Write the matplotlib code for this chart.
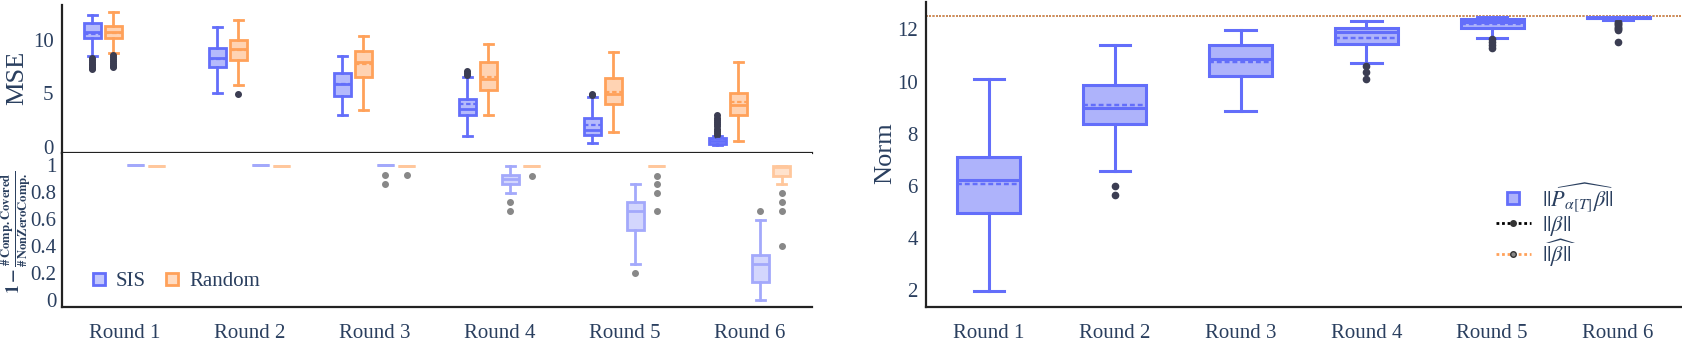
import matplotlib
matplotlib.use('Agg')
import matplotlib.pyplot as plt
from matplotlib.lines import Line2D

plt.rcParams['font.family'] = ['Liberation Serif', 'DejaVu Serif']
plt.rcParams['mathtext.fontset'] = 'stix'

TXT = '#2a3f5f'
BLUE = '#636EFA'
ORANGE = '#FFA15A'

rounds = ['Round 1', 'Round 2', 'Round 3', 'Round 4', 'Round 5', 'Round 6']

# ---- MSE (top-left) : lo, q1, med, mean, q3, hi
mse_sis_lo = [8.5, 5.06, 2.93, 1.02, 0.34, 0.15]
mse_sis_q1 = [10.2, 7.44, 4.72, 2.93, 1.11, 0.28]
mse_sis_med = [10.75, 8.36, 5.9, 3.49, 1.57, 0.55]
mse_sis_mean = [10.6, 8.2, 5.85, 4.04, 2.04, 0.7]
mse_sis_q3 = [11.6, 9.29, 6.88, 4.44, 2.71, 0.83]
mse_sis_hi = [12.38, 11.2, 8.52, 6.5, 4.66, 0.95]
mse_sis_out = [[8.3, 8.1, 7.95, 7.8, 7.65, 7.5, 7.4, 7.3], [], [],
               [7.1, 6.9, 6.75], [4.97, 4.85],
               [1.1, 1.3, 1.5, 1.7, 1.9, 2.1, 2.3, 2.5, 2.7, 2.96]]

mse_rnd_lo = [8.77, 5.83, 3.43, 2.93, 1.36, 0.49]
mse_rnd_q1 = [10.2, 8.12, 6.57, 5.28, 3.98, 2.96]
mse_rnd_med = [10.8, 9.2, 7.9, 6.36, 4.9, 3.95]
mse_rnd_mean = [10.65, 9.07, 7.75, 6.5, 5.1, 4.2]
mse_rnd_q3 = [11.36, 10.0, 8.98, 7.9, 6.42, 5.03]
mse_rnd_hi = [12.6, 11.85, 10.37, 9.66, 8.89, 7.96]
mse_rnd_out = [[8.6, 8.4, 8.2, 8.0, 7.85, 7.7, 7.55, 7.44], [4.94], [], [], [], []]

# ---- Coverage (bottom-left)
cov_sis_lo = [1.0, 1.0, 1.0, 0.795, 0.267, 0.0]
cov_sis_q1 = [1.0, 1.0, 1.0, 0.857, 0.52, 0.128]
cov_sis_med = [1.0, 1.0, 1.0, 0.894, 0.661, 0.267]
cov_sis_q3 = [1.0, 1.0, 1.0, 0.93, 0.728, 0.333]
cov_sis_hi = [1.0, 1.0, 1.0, 0.995, 0.86, 0.593]
cov_sis_out = [[], [], [0.926, 0.857], [0.728, 0.661], [0.2], [0.66]]

cov_rnd_lo = [0.99, 0.99, 0.99, 0.99, 0.99, 0.857]
cov_rnd_q1 = [0.99, 0.99, 0.99, 0.99, 0.99, 0.92]
cov_rnd_med = [0.99, 0.99, 0.99, 0.99, 0.99, 0.985]
cov_rnd_q3 = [0.99, 0.99, 0.99, 0.99, 0.99, 0.99]
cov_rnd_hi = [0.99, 0.99, 0.99, 0.99, 0.99, 0.99]
cov_rnd_out = [[], [], [0.926], [0.92], [0.92, 0.857, 0.79, 0.66],
               [0.79, 0.728, 0.661, 0.397]]

# ---- Norm (right)
norm_lo = [1.96, 6.57, 8.88, 10.70, 11.68, 12.36]
norm_q1 = [4.96, 8.36, 10.21, 11.45, 12.04, 12.42]
norm_med = [6.21, 9.0, 10.85, 11.9, 12.3, 12.45]
norm_mean = [6.07, 9.08, 10.75, 11.68, 12.19, 12.44]
norm_q3 = [7.11, 9.88, 11.39, 12.04, 12.41, 12.47]
norm_hi = [10.08, 11.39, 11.96, 12.34, 12.47, 12.47]
norm_out = [[], [6.0, 5.64], [], [10.58, 10.36, 10.11],
            [11.62, 11.51, 11.41, 11.28],
            [12.3, 12.25, 12.2, 12.15, 12.1, 12.05, 12.0, 11.96, 11.53]]
beta_norm = 12.5
beta_norm_hat = 12.52


def make_stats(lo, q1, med, q3, hi, out, mean=None):
    res = []
    for i in range(len(lo)):
        d = dict(whislo=lo[i], q1=q1[i], med=med[i], q3=q3[i], whishi=hi[i],
                 fliers=out[i])
        d['mean'] = mean[i] if mean is not None else med[i]
        res.append(d)
    return res


def draw(ax, stats, pos, width, capw, edge, face, lw, flier_c, showmeans=True,
         flier_alpha=1.0, ms=4):
    ax.bxp(stats, positions=pos, widths=width, capwidths=capw, patch_artist=True,
           showmeans=showmeans, meanline=True, manage_ticks=False,
           boxprops=dict(facecolor=face, edgecolor=edge, linewidth=lw),
           whiskerprops=dict(color=edge, linewidth=lw),
           capprops=dict(color=edge, linewidth=lw),
           medianprops=dict(color=edge, linewidth=lw),
           meanprops=dict(color=edge, linewidth=lw * 0.8, linestyle=(0, (2, 1.2))),
           flierprops=dict(marker='o', markersize=ms, markerfacecolor=flier_c,
                           markeredgecolor=flier_c, alpha=flier_alpha))


W, H = 1683, 342
fig = plt.figure(figsize=(W / 100, H / 100), dpi=100)


def fax(x0, y0, x1, y1):
    return fig.add_axes([x0 / W, 1 - y1 / H, (x1 - x0) / W, (y1 - y0) / H])


ax_top = fax(62, 5, 812, 153)
ax_bot = fax(62, 153, 812, 307)
ax_r = fax(926, 2, 1681, 307)

n = len(rounds)
idx = list(range(n))
bw = 0.137
cw = 0.07

draw(ax_top, make_stats(mse_sis_lo, mse_sis_q1, mse_sis_med, mse_sis_q3, mse_sis_hi,
                        mse_sis_out, mse_sis_mean),
     [i - 0.257 for i in idx], bw, cw, BLUE, '#B5BAFC', 2.0, '#3b3d52')
draw(ax_top, make_stats(mse_rnd_lo, mse_rnd_q1, mse_rnd_med, mse_rnd_q3, mse_rnd_hi,
                        mse_rnd_out, mse_rnd_mean),
     [i - 0.088 for i in idx], bw, cw, ORANGE, '#FFD3B3', 2.0, '#3b3d52')

draw(ax_bot, make_stats(cov_sis_lo, cov_sis_q1, cov_sis_med, cov_sis_q3, cov_sis_hi,
                        cov_sis_out),
     [i + 0.088 for i in idx], bw, cw, '#A3A9FB', '#D3D6FD', 2.0, '#888888',
     showmeans=False)
draw(ax_bot, make_stats(cov_rnd_lo, cov_rnd_q1, cov_rnd_med, cov_rnd_q3, cov_rnd_hi,
                        cov_rnd_out),
     [i + 0.257 for i in idx], bw, cw, '#FFC79C', '#FFE2CC', 2.0, '#888888',
     showmeans=False)

draw(ax_r, make_stats(norm_lo, norm_q1, norm_med, norm_q3, norm_hi, norm_out, norm_mean),
     idx, 0.5, 0.24, BLUE, '#AEB3FB', 2.2, '#3b3d52', ms=4.5)
ax_r.axhline(beta_norm, color='black', linestyle=(0, (1, 1)), linewidth=1.2, zorder=1)
ax_r.axhline(beta_norm_hat, color=ORANGE, linestyle=(0, (1, 1)), linewidth=1.2, zorder=1)

for ax in (ax_top, ax_bot, ax_r):
    ax.set_xlim(-0.5, n - 0.5)
    for s in ('top', 'right'):
        ax.spines[s].set_visible(False)
    for s in ('left', 'bottom'):
        ax.spines[s].set_color('#222222')
        ax.spines[s].set_linewidth(1.6)
    ax.tick_params(length=0, labelsize=15, labelcolor=TXT, pad=6)

ax_top.set_ylim(-0.6, 13.3)
ax_top.set_yticks([0, 5, 10])
ax_top.set_xticks([])

ax_bot.set_ylim(-0.055, 1.09)
ax_bot.set_yticks([0, 0.2, 0.4, 0.6, 0.8, 1])
ax_bot.set_yticklabels(['0', '0.2', '0.4', '0.6', '0.8', '1'])
ax_bot.set_xticks(idx)
ax_bot.set_xticklabels(rounds)
ax_bot.tick_params(axis='x', pad=12)
ax_bot.tick_params(axis='y', pad=4)

ax_r.set_ylim(1.35, 13.05)
ax_r.set_yticks([2, 4, 6, 8, 10, 12])
ax_r.set_xticks(idx)
ax_r.set_xticklabels(rounds)
ax_r.tick_params(axis='x', pad=12)

# axis titles placed in figure pixels
fig.text(17 / W, 1 - 78 / H, 'MSE', rotation=90, ha='center', va='center',
         fontsize=19, color=TXT)
fig.text(885 / W, 1 - 153 / H, 'Norm', rotation=90, ha='center', va='center',
         fontsize=19, color=TXT)
fig.text(16 / W, 1 - 232 / H,
         r'$\mathbf{1-\frac{\#\,Comp.Covered}{\#\,NonZeroComp.}}$',
         rotation=90, ha='center', va='center', fontsize=13, color=TXT)

# legends
h_sis = Line2D([], [], marker='s', ls='', markersize=9, markerfacecolor='#C3C7FC',
               markeredgecolor=BLUE, markeredgewidth=2)
h_rnd = Line2D([], [], marker='s', ls='', markersize=9, markerfacecolor='#FFDCC2',
               markeredgecolor=ORANGE, markeredgewidth=2)
ax_bot.legend([h_sis, h_rnd], ['SIS', 'Random'], ncol=2, frameon=False,
              loc='lower left', bbox_to_anchor=(0.01, -0.02), fontsize=15,
              labelcolor=TXT, handletextpad=0.3, columnspacing=0.8, handlelength=1.0)

h_box = Line2D([], [], marker='s', ls='', markersize=9, markerfacecolor='#AEB3FB',
               markeredgecolor=BLUE, markeredgewidth=2)
h_b = Line2D([], [], color='black', ls=(0, (1, 1)), lw=2, marker='o', markersize=4,
             markerfacecolor='#333333', markeredgecolor='#333333')
h_bh = Line2D([], [], color=ORANGE, ls=(0, (1, 1)), lw=2, marker='o', markersize=4,
              markerfacecolor='#888888', markeredgecolor='#333333')
ax_r.legend([h_box, h_b, h_bh],
            [r'$||\widehat{P_{\alpha[T]}\beta}||$', r'$||\beta||$', r'$\widehat{||\beta||}$'],
            frameon=False, loc='upper left', bbox_to_anchor=(0.728, 0.48), fontsize=16,
            labelcolor=TXT, handlelength=1.6, handletextpad=0.5, labelspacing=0.0)

fig.savefig('out.png', dpi=100)
